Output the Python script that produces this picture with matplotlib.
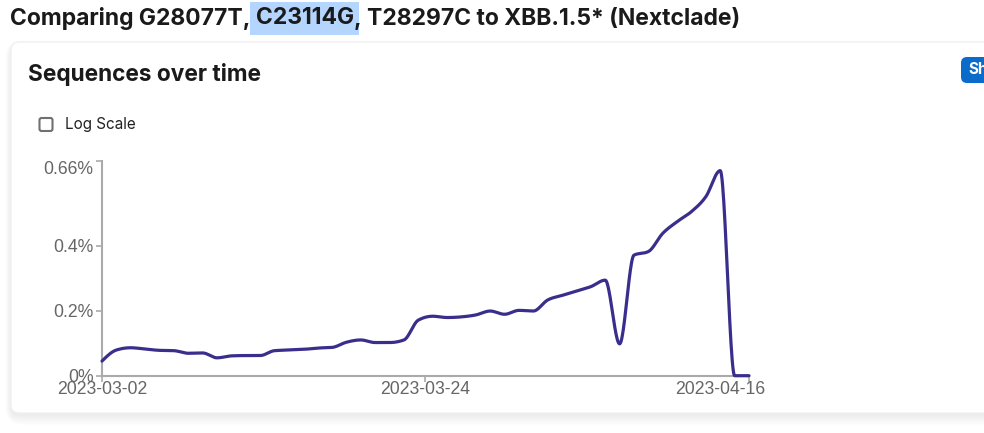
import numpy as np
import matplotlib
matplotlib.use("Agg")
import matplotlib.pyplot as plt
from matplotlib.patches import FancyBboxPatch
from matplotlib.transforms import ScaledTranslation

# texts
title_parts = ["Comparing G28077T, ", "C23114G", ", T28297C to XBB.1.5* (Nextclade)"]
panel_title = "Sequences over time"
checkbox_label = "Log Scale"
button_label = "Share"

# data: share of sequences (%) per day starting 2023-03-02
days = list(range(46))
share = [0.045, 0.079, 0.086, 0.082, 0.078, 0.077, 0.069, 0.070, 0.055, 0.061,
         0.062, 0.062, 0.077, 0.079, 0.081, 0.085, 0.087, 0.103, 0.110, 0.102,
         0.102, 0.110, 0.171, 0.183, 0.179, 0.181, 0.187, 0.199, 0.189, 0.201,
         0.199, 0.233, 0.247, 0.260, 0.274, 0.294, 0.098, 0.371, 0.382, 0.438,
         0.474, 0.505, 0.551, 0.631, 0.0, 0.0]
x_tick_pos = [0, 22.5, 45]
x_tick_labels = ["2023-03-02", "2023-03-24", "2023-04-16"]
y_ticks = [0, 0.2, 0.4, 0.66]
y_tick_labels = ["0%", "0.2%", "0.4%", "0.66%"]


def monotone_curve(x, y, n=25):
    # same idea as d3.curveMonotoneX
    x = np.array(x, float)
    y = np.array(y, float)
    h = np.diff(x)
    s = np.diff(y) / h
    t = np.zeros(len(x))
    for i in range(1, len(x) - 1):
        p = (s[i - 1] * h[i] + s[i] * h[i - 1]) / (h[i - 1] + h[i])
        sg = (1 if s[i - 1] >= 0 else -1) + (1 if s[i] >= 0 else -1)
        t[i] = sg * min(abs(s[i - 1]), abs(s[i]), 0.5 * abs(p))
    t[0] = (3 * s[0] - t[1]) / 2
    t[-1] = (3 * s[-1] - t[-2]) / 2
    xs = []
    ys = []
    u = np.linspace(0, 1, n)
    for i in range(len(x) - 1):
        h00 = 2 * u**3 - 3 * u**2 + 1
        h10 = u**3 - 2 * u**2 + u
        h01 = -2 * u**3 + 3 * u**2
        h11 = u**3 - u**2
        xs.extend(x[i] + u * h[i])
        ys.extend(h00 * y[i] + h10 * h[i] * t[i] + h01 * y[i + 1] + h11 * h[i] * t[i + 1])
    return xs, ys


fig = plt.figure(figsize=(9.84, 4.33), dpi=100)
fig.patch.set_facecolor("white")

# background layer in pixel coords
bg = fig.add_axes([0, 0, 1, 1])
bg.set_xlim(0, 984)
bg.set_ylim(433, 0)
bg.axis("off")

# card shadow + card
for k in range(10):
    sh = FancyBboxPatch((11 - k * 0.6, 46 - k * 0.6), 1000 + 1.2 * k, 369 + 1.2 * k + k * 0.5,
                        boxstyle="round,pad=0,rounding_size=" + str(8 + k),
                        fc="black", ec="none", alpha=0.007)
    bg.add_patch(sh)
card = FancyBboxPatch((11, 42), 1000, 371, boxstyle="round,pad=0,rounding_size=8",
                      fc="white", ec="#f0f0f0", lw=1)
bg.add_patch(card)

# title with the selected part highlighted
fig.canvas.draw()
renderer = fig.canvas.get_renderer()
x = 10
for i in range(len(title_parts)):
    kw = {}
    if i == 1:
        kw["bbox"] = dict(facecolor="#b4d5fe", edgecolor="none", pad=4)
    t = bg.text(x, 18, title_parts[i], fontsize=16.5, fontweight="bold", family="Inter",
                color="#1a1a1a", va="center", ha="left", **kw)
    ext = t.get_window_extent(renderer=renderer)
    x = x + ext.width

bg.text(28, 75, panel_title, fontsize=16.3, fontweight="bold", family="Inter",
        color="#1a1a1a", va="center", ha="left")

# checkbox
box = FancyBboxPatch((39.5, 118), 13, 13, boxstyle="round,pad=0,rounding_size=2",
                     fc="white", ec="#707070", lw=1.5)
bg.add_patch(box)
bg.text(65, 124, checkbox_label, fontsize=11, family="Inter", color="#222222",
        va="center", ha="left")

# button cut off at the right edge
btn = FancyBboxPatch((961, 57), 70, 26, boxstyle="round,pad=0,rounding_size=6",
                     fc="#0b6bcb", ec="none")
bg.add_patch(btn)
bg.text(968, 70, button_label, fontsize=11, fontweight="bold", family="Inter",
        color="white", va="center", ha="left", clip_on=True)

# chart
ax = fig.add_axes([102 / 984, 1 - 375.7 / 433, 647 / 984, 214.5 / 433])
ax.patch.set_alpha(0)
cx, cy = monotone_curve(days, share)
ax.plot(cx, cy, color="#3a2e8c", lw=2.3, clip_on=False, solid_capstyle="round", zorder=5)
ax.set_xlim(0, 45)
ax.set_ylim(0, 0.66)
ax.spines["top"].set_visible(False)
ax.spines["right"].set_visible(False)
ax.spines["left"].set_color("#aaaaaa")
ax.spines["bottom"].set_color("#aaaaaa")
ax.spines["left"].set_linewidth(1.5)
ax.spines["bottom"].set_linewidth(1.5)
ax.set_xticks(x_tick_pos)
ax.set_xticklabels(x_tick_labels)
ax.set_yticks(y_ticks)
ax.set_yticklabels(y_tick_labels)
ax.tick_params(axis="both", colors="#aaaaaa", length=4, width=1.2, labelcolor="#666666",
               labelsize=12.7)
ax.tick_params(axis="x", pad=0)
ax.tick_params(axis="y", pad=2)
for lab in ax.get_xticklabels() + ax.get_yticklabels():
    lab.set_family("Liberation Sans")
# top label sits just under its tick, like in the web chart
ax.get_yticklabels()[-1].set_va("top")
# last date label is pulled left of its tick in the web chart
last = ax.get_xticklabels()[-1]
last.set_transform(last.get_transform() + ScaledTranslation(-0.29, 0, fig.dpi_scale_trans))

fig.savefig("out.png", dpi=100)
